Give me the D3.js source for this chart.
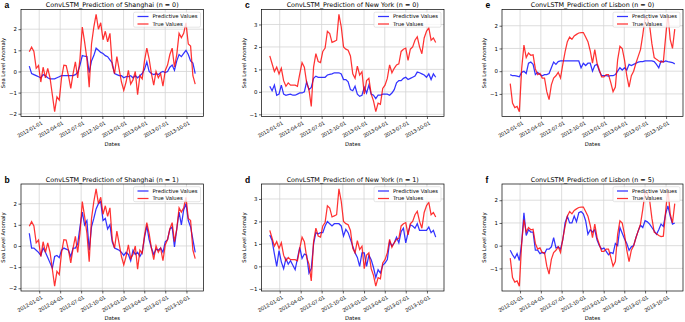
<!DOCTYPE html>
<html>
<head>
<meta charset="utf-8">
<script src="https://cdn.jsdelivr.net/npm/d3@7"></script>
<style>
  body { margin: 0; background: #fff; }
  svg { display: block; font-family: "DejaVu Sans", sans-serif; }
</style>
</head>
<body>
<svg id="chart" width="685" height="322"></svg>
<script>
// sampling dates of the test period (every 10 days)
const startDate = new Date(2011, 10, 19);
const dates = d3.range(73).map(i => d3.timeDay.offset(startDate, i * 10));

const tickLabels = ["2012-01-01", "2012-04-01", "2012-07-01", "2012-10-01",
                    "2013-01-01", "2013-04-01", "2013-07-01", "2013-10-01"];

const shanghaiTrue = [0.93, 1.15, 0.95, 0.15, 0.28, -0.5, 0.2, -0.3, 0.15, -0.3,
  -1.1, -1.9, -1.2, -1.35, -0.3, 0.3, 0.28, -0.2, -0.8, -0.1,
  0.45, -0.3, 0.6, 2.1, 1.4, 0.6, -0.75, 1.3, 2.1, 2.7,
  2.0, 2.3, 1.5, 1.9, 1.4, 1.8, 0.3, -0.1, 0.7, 0.1,
  -0.5, -0.9, -0.5, 0.05, -0.6, -0.4, 0.0, -1.1, -0.2, -0.35,
  0.5, 1.1, 0.6, -0.1, -0.65, 0.0, -0.3, -0.1, -0.7, 0.05,
  0.3, 0.8, 1.1, 0.2, 0.8, 1.8, 1.6, 1.8, 2.3, 1.3,
  1.2, -0.2, -0.6];
const shanghaiPredN0 = [0.25, -0.1, -0.15, -0.2, -0.25, -0.3, -0.15, -0.2, -0.3, -0.35,
  -0.35, -0.35, -0.3, -0.25, -0.2, -0.2, -0.2, -0.2, -0.2, -0.2,
  -0.15, -0.05, 0.3, 0.75, 0.72, 0.7, -0.05, 0.5, 0.75, 1.1,
  1.0, 0.9, 0.85, 0.75, 0.7, 0.55, 0.4, -0.1, -0.15, -0.2,
  -0.2, -0.3, -0.25, -0.25, -0.2, -0.3, -0.2, -0.3, -0.2, -0.1,
  0.1, 0.45, 0.0, -0.1, -0.15, -0.1, -0.15, -0.05, 0.0, -0.05,
  0.0, 0.2, 0.3, 0.05, 0.5, 0.8, 0.7, 0.85, 1.0, 0.8,
  0.5, 0.4, -0.1];
const shanghaiPredN1 = [0.6, -0.1, -0.1, -0.2, -0.3, -0.45, -0.1, -0.3, -0.55, -0.8,
  -1.05, -0.5, -0.45, -0.55, -0.2, -0.1, -0.15, -0.2, -0.5, -0.1,
  -0.1, 0.1, 0.9, 1.6, 1.0, 1.2, -0.2, 0.9, 1.3, 1.75,
  2.0, 2.1, 1.2, 1.3, 0.8, 1.0, 0.2, -0.1, -0.15, -0.2,
  -0.3, -0.45, -0.3, -0.4, -0.7, -0.2, -0.4, -0.3, -0.5, -0.3,
  0.4, 0.95, 0.3, -0.1, -0.4, -0.15, -0.2, -0.1, -0.3, 0.2,
  0.3, 0.8, 0.9, -0.05, 0.8, 1.6, 1.0, 1.7, 2.0, 1.2,
  0.9, 0.3, -0.3];

const newYorkTrue = [1.6, 1.25, 0.9, 1.1, 0.8, 1.05, 0.5, 0.25, 0.4, 0.3,
  0.3, 0.3, 0.25, 0.8, 1.3, 1.1, 0.4, 0.1, -0.65, 1.1,
  1.7, 1.35, 1.3, 1.8, 1.95, 2.7, 2.6, 2.2, 2.25, 2.3,
  3.45, 2.9, 2.0, 1.9, 1.85, 1.6, 0.8, 0.6, 1.15, 0.75,
  0.9, -0.1, 0.5, 0.6, -0.1, -0.4, -0.88, -0.5, -0.55, 0.15,
  0.3, 0.6, 1.2, 0.85, 1.05, 1.2, 1.25, 1.8, 1.9, 1.95,
  1.4, 1.9, 2.0, 2.3, 2.45, 2.0, 1.7, 2.4, 2.7, 2.85,
  2.3, 2.4, 2.2];
const newYorkPredN0 = [0.25, 0.05, 0.3, -0.15, -0.1, 0.3, -0.1, -0.15, -0.12, -0.1,
  -0.15, -0.15, -0.1, -0.05, -0.05, 0.0, 0.45, 0.1, 0.2, 0.6,
  0.7, 0.65, 0.65, 0.65, 0.65, 0.75, 0.78, 0.8, 0.85, 0.85,
  0.85, 0.8, 0.55, 0.55, 0.45, 0.1, 0.05, 0.25, -0.1, -0.2,
  -0.15, 0.2, -0.05, 0.3, -0.1, -0.15, -0.3, -0.15, -0.15, -0.1,
  -0.1, -0.1, -0.15, -0.05, 0.1, 0.4, 0.5, 0.5, 0.6, 0.65,
  0.55, 0.6, 0.65, 0.7, 0.88, 0.85, 0.8, 0.75, 0.65, 0.8,
  0.55, 0.8, 0.65];
const newYorkPredN1 = [1.4, 1.15, 0.55, 0.0, 0.7, 0.2, -0.1, 0.35, 0.1, 0.25,
  0.05, -0.15, 0.35, 0.85, 0.35, 0.55, 0.5, -0.3, -0.1, 1.0,
  1.5, 1.45, 1.5, 1.5, 1.8, 2.0, 1.9, 1.8, 1.9, 1.9,
  1.9, 1.8, 1.35, 1.65, 1.5, 1.2, 0.9, 0.6, 0.4, 0.0,
  0.6, 0.6, 0.0, 0.5, 0.3, -0.05, -0.5, -0.15, -0.3, 0.05,
  0.15, 0.3, 1.1, 0.9, 1.05, 1.3, 1.05, 1.55, 1.7, 1.05,
  1.5, 1.85, 1.8, 1.7, 1.9, 1.6, 1.6, 1.6, 1.6, 1.75,
  1.5, 1.6, 1.3];

const lisbonTrue = [-0.55, -1.4, -1.6, -1.55, -1.78, 0.1, 1.15, 0.6, 0.8, 0.7,
  0.72, 0.1, -0.15, -0.1, -0.3, -0.3, -0.9, -1.25, -0.6, -0.3,
  -0.2, -0.05, -0.3, 0.3, 0.85, 1.3, 1.5, 1.4, 1.55, 1.62,
  1.68, 1.7, 1.7, 1.5, 1.3, 0.9, 0.35, 0.95, 0.35, 0.05,
  -0.25, -0.25, -0.15, -0.15, -0.5, -0.9, -0.7, 0.5, 1.1, 1.0,
  0.5, -0.2, -0.7, -0.2, 0.0, 0.35, 0.65, 0.95, 1.6, 2.35,
  2.3, 2.0, 1.2, 0.6, 0.52, 0.45, 0.4, 0.42, 1.5, 2.5,
  1.4, 1.0, 1.85];
const lisbonPredN0 = [-0.15, -0.2, -0.2, -0.22, -0.25, -0.05, 0.0, -0.1, 0.35, 0.4,
  0.3, -0.15, -0.05, -0.15, -0.2, -0.15, -0.15, -0.1, 0.15, 0.4,
  0.3, 0.42, 0.45, 0.45, 0.45, 0.45, 0.45, 0.45, 0.45, 0.45,
  0.45, 0.15, 0.35, 0.25, 0.35, 0.35, 0.0, 0.25, 0.3, 0.0,
  -0.2, -0.2, -0.2, -0.22, -0.2, -0.2, -0.15, 0.0, 0.15, 0.05,
  0.15, 0.05, 0.3, 0.25, 0.3, 0.35, 0.4, 0.42, 0.42, 0.45,
  0.45, 0.45, 0.45, 0.42, 0.3, 0.15, 0.45, 0.4, 0.45, 0.42,
  0.4, 0.38, 0.32];
const lisbonPredN5 = [-0.2, -0.4, -0.55, -0.35, -0.65, 0.1, 1.45, 0.45, 0.7, 0.6,
  0.6, -0.2, -0.2, -0.35, -0.3, -0.35, -0.15, -0.15, -0.05, 0.35,
  -0.1, -0.05, -0.15, 0.25, 1.0, 1.3, 1.0, 1.0, 1.3, 1.05,
  1.45, 1.5, 1.4, 1.1, 0.5, 0.7, 0.6, 0.7, 0.25, 0.0,
  -0.15, -0.1, -0.25, -0.4, -0.3, -0.35, 0.1, 0.0, 0.8, 0.55,
  0.3, 0.1, -0.2, -0.05, 0.0, 0.35, 0.65, 0.9, 0.8, 1.1,
  1.05, 0.95, 0.8, 0.65, 0.5, 0.7, 0.95, 0.85, 1.4, 1.75,
  1.3, 0.95, 1.0];

const panels = [
  {letter: "a", title: "ConvLSTM_Prediction of Shanghai (n = 0)", pred: shanghaiPredN0, truth: shanghaiTrue, col: 0, row: 0},
  {letter: "b", title: "ConvLSTM_Prediction of Shanghai (n = 1)", pred: shanghaiPredN1, truth: shanghaiTrue, col: 0, row: 1},
  {letter: "c", title: "ConvLSTM_Prediction of New York (n = 0)", pred: newYorkPredN0, truth: newYorkTrue, col: 1, row: 0},
  {letter: "d", title: "ConvLSTM_Prediction of New York (n = 1)", pred: newYorkPredN1, truth: newYorkTrue, col: 1, row: 1},
  {letter: "e", title: "ConvLSTM_Prediction of Lisbon (n = 0)", pred: lisbonPredN0, truth: lisbonTrue, col: 2, row: 0},
  {letter: "f", title: "ConvLSTM_Prediction of Lisbon (n = 5)", pred: lisbonPredN5, truth: lisbonTrue, col: 2, row: 1},
];

// frame geometry of the subplots
const colLeft = [21, 261.5, 502], colWidth = [182.5, 182.5, 181];
const rowTop = [9.5, 184], plotHeight = 107;

const svg = d3.select("#chart");
const parseDay = d3.timeParse("%Y-%m-%d");
const fmt = d3.format("d");

panels.forEach(drawPanel);

function padded([lo, hi], frac = 0.05) {
  const pad = (hi - lo) * frac;
  return [lo - pad, hi + pad];
}

function drawPanel(p) {
  const left = colLeft[p.col], top = rowTop[p.row];
  const w = colWidth[p.col], h = plotHeight;
  const g = svg.append("g").attr("transform", `translate(${left},${top})`);

  const [d0, d1] = d3.extent(dates);
  const xPad = (d1 - d0) * 0.05;
  const x = d3.scaleTime().domain([new Date(+d0 - xPad), new Date(+d1 + xPad)]).range([0, w]);
  const y = d3.scaleLinear().domain(padded(d3.extent([...p.pred, ...p.truth]))).range([h, 0]);

  const xTicks = tickLabels.map(parseDay);
  const yTicks = y.ticks(5).filter(v => Number.isInteger(v));

  // grid
  g.append("g").selectAll("line").data(xTicks).join("line")
    .attr("x1", d => x(d)).attr("x2", d => x(d)).attr("y1", 0).attr("y2", h)
    .attr("stroke", "#d4d4d4").attr("stroke-width", 0.8);
  g.append("g").selectAll("line").data(yTicks).join("line")
    .attr("x1", 0).attr("x2", w).attr("y1", d => y(d)).attr("y2", d => y(d))
    .attr("stroke", "#d4d4d4").attr("stroke-width", 0.8);

  const line = (vals) => d3.line().x((d, i) => x(dates[i])).y(d => y(d))(vals);

  g.append("path").attr("d", line(p.pred)).attr("fill", "none")
    .attr("stroke", "#0000ff").attr("stroke-opacity", 0.8).attr("stroke-width", 1.25);
  g.append("path").attr("d", line(p.truth)).attr("fill", "none")
    .attr("stroke", "#ff0000").attr("stroke-opacity", 0.8).attr("stroke-width", 1.25);

  // axes
  const xAxis = g.append("g").attr("transform", `translate(0,${h})`)
    .call(d3.axisBottom(x).tickValues(xTicks).tickSize(2.5).tickFormat(""));
  xAxis.selectAll("text").remove();
  xAxis.selectAll(".tick").append("text")
    .attr("transform", "translate(1,4) rotate(-30)")
    .attr("text-anchor", "end").attr("dy", "0.75em")
    .attr("fill", "#000").attr("font-size", 5.4)
    .text((d, i) => tickLabels[i]);

  const yAxis = g.append("g")
    .call(d3.axisLeft(y).tickValues(yTicks).tickSize(2.5).tickPadding(1.5).tickFormat(d => fmt(d).replace("-", "\u2212")));
  yAxis.selectAll("text").attr("font-size", 5.4).attr("font-family", "DejaVu Sans").attr("fill", "#000");

  [xAxis, yAxis].forEach(a => {
    a.select(".domain").remove();
    a.selectAll(".tick line").attr("stroke", "#000").attr("stroke-width", 0.6);
  });

  g.append("rect").attr("width", w).attr("height", h)
    .attr("fill", "none").attr("stroke", "#000").attr("stroke-width", 0.7);

  // legend
  const lg = g.append("g").attr("transform", `translate(${w - 70},2.7)`);
  lg.append("rect").attr("width", 67).attr("height", 15).attr("rx", 1.5)
    .attr("fill", "#fff").attr("fill-opacity", 0.8).attr("stroke", "#cccccc").attr("stroke-width", 0.5);
  [["Predictive Values", "#0000ff"], ["True Values", "#ff0000"]].forEach(([label, color], i) => {
    const yy = 4.3 + i * 7.5;
    lg.append("line").attr("x1", 4).attr("x2", 15).attr("y1", yy).attr("y2", yy)
      .attr("stroke", color).attr("stroke-opacity", 0.8).attr("stroke-width", 1.25);
    lg.append("text").attr("x", 19).attr("y", yy).attr("dy", "0.35em")
      .attr("font-size", 5.3).text(label);
  });

  // titles and labels
  g.append("text").attr("x", w / 2).attr("y", -2.5).attr("text-anchor", "middle")
    .attr("font-size", 6.4).text(p.title);
  svg.append("text").attr("x", left - 16.5).attr("y", top - 1.3)
    .attr("font-family", "Liberation Sans, Arial, sans-serif").attr("font-weight", "bold")
    .attr("font-size", 8.5).text(p.letter);
  g.append("text").attr("transform", `translate(-16,${h / 2}) rotate(-90)`)
    .attr("text-anchor", "middle").attr("font-size", 5.3).text("Sea Level Anomaly");
  g.append("text").attr("x", w / 2).attr("y", h + 29).attr("text-anchor", "middle")
    .attr("font-size", 5.3).text("Dates");
}
</script>
</body>
</html>
